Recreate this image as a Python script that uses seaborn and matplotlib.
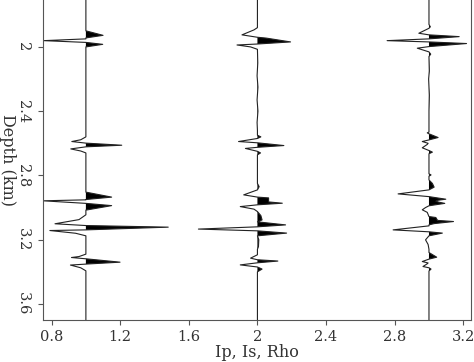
import numpy as np
import matplotlib
matplotlib.use("Agg")
import matplotlib.pyplot as plt
import seaborn as sns

sns.set_style("white")
plt.rcParams['font.family'] = ['DejaVu Serif', 'DejaVu Sans']

# Trace centres (normalised Ip, Is, Rho)
trace_names = ["Ip", "Is", "Rho"]
trace_centers = [1.0, 2.0, 3.0]

# Trace 1 (Ip): depth keypoints (km) and deviations from the centre
ip_depth = [1.700, 1.900, 1.928, 1.944, 1.950, 1.961, 1.972, 1.984, 2.000,
            2.560, 2.578, 2.589, 2.599, 2.612, 2.622, 2.635, 2.648, 2.660,
            2.904, 2.935, 2.950, 2.952, 2.958, 2.974, 2.988, 3.016,
            3.045, 3.075, 3.101, 3.112, 3.122, 3.139, 3.143, 3.160, 3.176,
            3.290, 3.305, 3.311, 3.319, 3.340, 3.352, 3.358, 3.375, 3.394, 3.700]
ip_amp = [0, 0, 0.100, 0, 0, -0.245, 0, 0.098, 0,
          0, -0.030, -0.082, 0, 0.209, 0, -0.088, -0.030, 0,
          0, 0.150, 0, 0, -0.250, 0, 0.150, 0,
          0, -0.040, -0.180, 0, 0.480, 0, -0.210, -0.060, 0,
          0, -0.040, -0.084, 0, 0.199, 0, -0.090, -0.030, 0, 0]

# Trace 2 (Is)
is_depth = [1.700, 1.880, 1.894, 1.925, 1.940, 1.945, 1.969, 1.982, 1.988, 2.000, 2.015,
            2.100, 2.180, 2.250, 2.330, 2.400, 2.470, 2.520,
            2.550, 2.560, 2.570, 2.589, 2.597, 2.614, 2.625, 2.632, 2.650, 2.660, 2.672,
            2.850, 2.870, 2.890, 2.921, 2.935, 2.940, 2.965, 2.973, 2.983, 2.994, 3.010,
            3.025, 3.050, 3.077, 3.089, 3.108, 3.120, 3.134, 3.145, 3.159, 3.176,
            3.200, 3.243, 3.260, 3.294, 3.315, 3.325, 3.333, 3.344, 3.357, 3.370,
            3.383, 3.400, 3.700]
is_amp = [0, 0, -0.020, -0.090, 0, 0.050, 0.193, 0, -0.119, -0.040, 0,
          0.002, -0.002, 0.003, -0.002, 0.003, -0.002, 0,
          0, 0.020, 0, -0.110, 0, 0.154, 0, -0.070, 0, 0.018, 0,
          0, 0.010, 0, -0.080, 0, 0.065, 0.065, 0.145, 0, -0.100, -0.020,
          0, 0.020, 0.027, 0, 0.164, 0, -0.344, 0, 0.170, 0,
          0.008, 0.006, 0, 0, -0.040, 0, 0.119, 0, -0.100, 0,
          0.027, 0, 0]

# Trace 3 (Rho)
rho_depth = [1.700, 1.860, 1.875, 1.884, 1.915, 1.925, 1.936, 1.950, 1.961, 1.969,
             1.979, 1.998, 2.008, 2.031, 2.045, 2.060,
             2.150, 2.200, 2.300, 2.400,
             2.530, 2.535, 2.541, 2.564, 2.579, 2.589, 2.600, 2.607, 2.628, 2.645,
             2.655, 2.665, 2.790, 2.797, 2.805,
             2.828, 2.850, 2.873, 2.890, 2.915, 2.932, 2.948, 2.955, 2.961, 2.967,
             2.974, 2.989, 3.000, 3.014, 3.030, 3.056, 3.062, 3.080, 3.087, 3.100,
             3.108, 3.114, 3.139, 3.151, 3.159, 3.176, 3.201, 3.230, 3.260,
             3.280, 3.309, 3.321, 3.336, 3.345, 3.350, 3.367, 3.375, 3.383, 3.395, 3.700]
rho_amp = [0, 0, 0.008, 0, -0.059, 0, 0.176, 0, -0.244, 0,
           0.219, 0, -0.068, 0, 0.010, 0,
           0.002, -0.002, 0.002, 0,
           0, -0.010, 0, 0.053, 0, -0.039, -0.005, -0.010, -0.039, 0,
           0.020, 0, 0, 0.012, 0,
           0, 0.020, 0.030, 0, -0.180, 0, 0.098, 0.050, 0.040, 0.060,
           0.092, 0, -0.020, -0.039, -0.010, 0, 0.040, 0.050, 0.143, 0.030,
           0, 0, -0.209, 0, 0.078, 0, -0.020, -0.005, 0,
           0, 0.045, 0, -0.039, -0.005, -0.010, -0.035, 0, 0.012, 0, 0]

x_ticks = [0.8, 1.2, 1.6, 2.0, 2.4, 2.8, 3.2]
x_tick_labels = ["0.8", "1.2", "1.6", "2", "2.4", "2.8", "3.2"]
y_ticks = [2.0, 2.4, 2.8, 3.2, 3.6]
y_tick_labels = ["2", "2.4", "2.8", "3.2", "3.6"]

fig = plt.figure(figsize=(4.74, 3.62), dpi=100)
ax = fig.add_axes([43 / 474, 1 - 320 / 362, (471 - 43) / 474, 320 / 362])

traces = [(ip_depth, ip_amp), (is_depth, is_amp), (rho_depth, rho_amp)]
for center, (dep, amp) in zip(trace_centers, traces):
    dep = np.asarray(dep, float)
    amp = np.asarray(amp, float)
    xs = center + amp
    ax.fill_betweenx(dep, center, xs, where=amp >= 0, interpolate=True,
                     color="black", linewidth=0)
    sns.lineplot(x=xs, y=dep, sort=False, estimator=None, ax=ax,
                 color="#222222", linewidth=0.8)

ax.set_xlim(0.75, 3.245)
ax.set_ylim(3.70, 1.708)

ax.set_xticks(x_ticks)
ax.set_xticklabels(x_tick_labels)
ax.set_yticks(y_ticks)
ax.set_yticklabels(y_tick_labels, rotation=-90, va="center", ha="center")

for side in ["left", "bottom", "right"]:
    ax.spines[side].set_color("#555555")
    ax.spines[side].set_linewidth(0.8)
ax.spines["top"].set_visible(False)

ax.tick_params(axis="both", which="both", direction="out", length=3.5, width=0.8,
               color="#555555", labelcolor="#333333", labelsize=10.5)
ax.tick_params(axis="x", pad=4, bottom=True)
ax.tick_params(axis="y", pad=11, left=True)

ax.set_xlabel("Ip, Is, Rho", fontsize=11.5, color="#333333")
ax.xaxis.set_label_coords(0.5, -0.103)
ax.xaxis.label.set_va("center")
ax.set_ylabel("Depth (km)", fontsize=11.5, color="#333333", rotation=-90)
ax.yaxis.set_label_coords(-0.083, 0.5)
ax.yaxis.label.set_va("center")
ax.yaxis.label.set_ha("center")

fig.savefig("out.png", dpi=100)
